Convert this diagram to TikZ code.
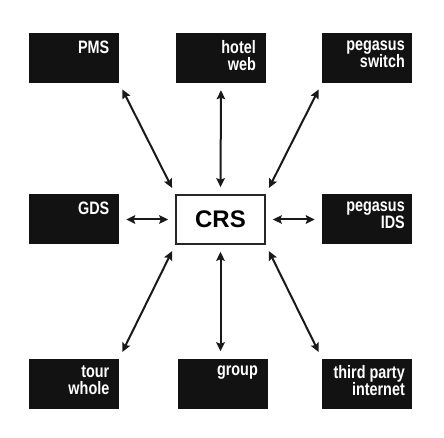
\documentclass[tikz,border=0pt]{standalone}
\usepackage{fontspec}
\setmainfont{Liberation Sans}
\newfontfamily\boxfont{Liberation Sans}[FakeStretch=0.8]
\usetikzlibrary{arrows.meta,positioning}

\tikzset{
    sysbox/.style={fill=black!93,minimum width=90pt,minimum height=50pt,inner sep=0pt},
    sysname/.style={anchor=north east,inner sep=0pt,align=right,text=white,
        font=\fontsize{18}{17}\selectfont\boxfont\bfseries},
    crsbox/.style={draw=black!85,line width=1.6pt,fill=white,minimum width=89pt,minimum height=49pt,
        font=\fontsize{24}{26}\selectfont\bfseries},
    dataflow/.style={draw=black!90,line width=2pt,{Stealth[length=9pt,width=8.5pt,inset=1.5pt]}-{Stealth[length=9pt,width=8.5pt,inset=1.5pt]},
        shorten <=7pt,shorten >=7pt}
}

\begin{document}
\begin{tikzpicture}[x=1pt,y=-1pt]
    \useasboundingbox (0,0) rectangle (444,438);

    % center
    \node[crsbox] (crs) at (220.5,219.5) {CRS};

    % top row
    \node[sysbox] (pms) at (74,58) {};
    \node[sysbox] (web) at (221,58) {};
    \node[sysbox] (switch) at (367,58) {};
    \node[sysname] (pmsT) at (109.5,40.5) {PMS};
    \node[sysname] (webT) at (256,40.5) {hotel\\web};
    \node[sysname] (switchT) at (405,40.5) {pegasus\\switch};

    % middle row
    \node[sysbox] (gds) at (74,219.5) {};
    \node[sysbox] (ids) at (367,219.5) {};
    \node[sysname] (gdsT) at (109.5,201.5) {GDS};
    \node[sysname] (idsT) at (405,201.5) {pegasus\\IDS};

    % bottom row
    \node[sysbox] (tour) at (74,383.5) {};
    \node[sysbox] (group) at (223,383.5) {};
    \node[sysbox] (third) at (367,383.5) {};
    \node[sysname] (tourT) at (109.5,365.5) {tour\\whole};
    \node[sysname] (groupT) at (258,365.5) {group};
    \node[sysname] (thirdT) at (405,365.5) {third party\\internet};

    % links
    \draw[dataflow] (pms.south east) -- (crs.north west);
    \draw[dataflow] (web.south) -- (crs.north);
    \draw[dataflow] (switch.south west) -- (crs.north east);
    \draw[dataflow] (gds.east) -- (crs.west);
    \draw[dataflow] (ids.west) -- (crs.east);
    \draw[dataflow] (tour.north east) -- (crs.south west);
    \draw[dataflow] (crs.south) -- (crs.south |- group.north);
    \draw[dataflow] (third.north west) -- (crs.south east);
\end{tikzpicture}
\end{document}
